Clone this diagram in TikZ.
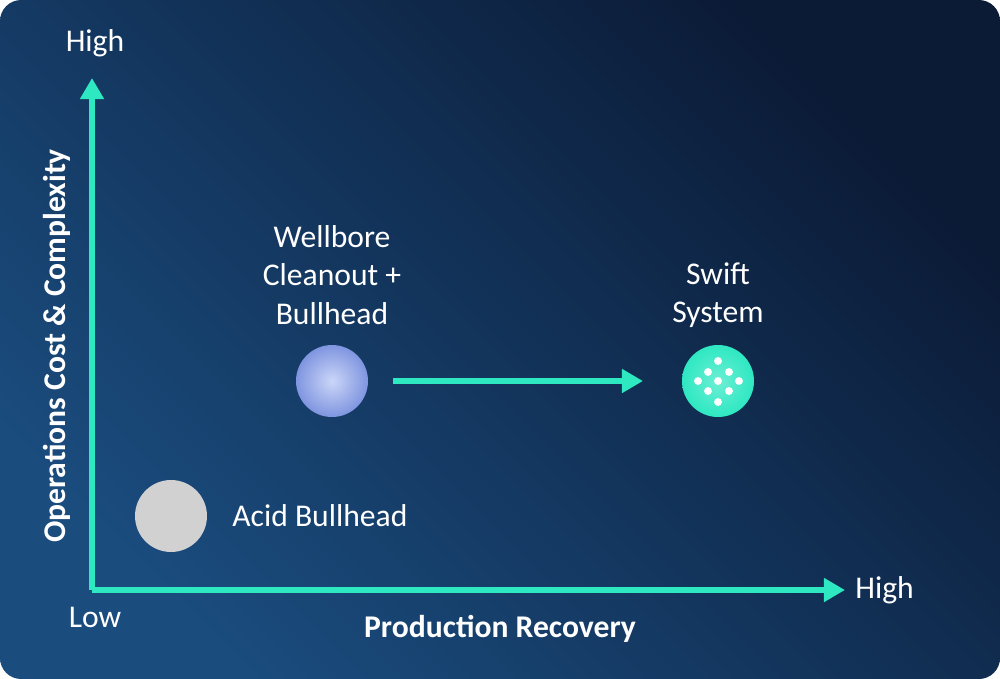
\documentclass[tikz,border=0pt]{standalone}
\usepackage{fontspec}
\setmainfont{Carlito}
\usetikzlibrary{arrows.meta, positioning}
\definecolor{teal}{HTML}{2EE8C2}
\definecolor{bgdark}{HTML}{0B1A35}
\definecolor{bglight}{HTML}{1A4C7E}
\definecolor{peri}{HTML}{7F95E0}
\definecolor{perilight}{HTML}{CBD6F8}
\tikzset{
  axis/.style={line width=3.4pt, teal, -{Triangle[length=12pt,width=13pt]}},
  lbl/.style={text=white, font=\fontsize{18}{22}\selectfont, inner sep=0pt},
  bold lbl/.style={lbl, font=\fontsize{18}{22}\selectfont\bfseries},
  dot/.style={circle, fill=white, inner sep=0pt, minimum size=4.5pt},
  marker/.style={circle, minimum size=1.44cm, inner sep=0pt}
}
\begin{document}
\begin{tikzpicture}[x=0.02cm, y=-0.02cm]
  % background
  \shade[bottom color=bglight, top color=bgdark, shading angle=-45, rounded corners=12pt]
    (0,0) rectangle (1000,679);
  \useasboundingbox (0,0) rectangle (1000,679);

  % axes
  \coordinate (origin) at (92,590);
  \coordinate (ytop) at (92,78);
  \coordinate (xend) at (845,590);
  \draw[axis] (origin) -- (ytop);
  \draw[axis] (origin) -- (xend);

  \node[lbl] (yhigh) at (95,43) {High};
  \node[lbl] (low) at (95,617) {Low};
  \node[lbl, anchor=west] (xhigh) at (855,590) {High};
  \node[bold lbl] (xlabel) at (500,629) {Production Recovery};
  \node[bold lbl, rotate=90] (ylabel) at (57,346) {Operations Cost \& Complexity};

  % points
  \node[marker, fill=black!18] (acid) at (171,516) {};
  \node[lbl, anchor=west] (acidlbl) at (232,516) {Acid Bullhead};

  \shade[inner color=perilight, outer color=peri] (332,381) circle (36);
  \node[marker] (wellbore) at (332,381) {};
  \node[lbl, align=center] (welllbl) at (332,275) {Wellbore\\Cleanout +\\Bullhead};

  \shade[inner color=teal!70!white, outer color=teal] (718,381) circle (36);
  \node[marker] (swift) at (718,381) {};
  \node[lbl, align=center] (swiftlbl) at (718,295) {Swift\\System};
  \foreach \dx/\dy in {0/-20, -10/-9, 11/-9, -20/0, 0/0, 21/0, -10/10, 11/10, 0/21}
    \node[dot] at (718+\dx,381+\dy) {};

  % arrow
  \coordinate (astart) at (393,381);
  \coordinate (aend) at (643,381);
  \draw[axis] (astart) -- (aend);
\end{tikzpicture}
\end{document}
